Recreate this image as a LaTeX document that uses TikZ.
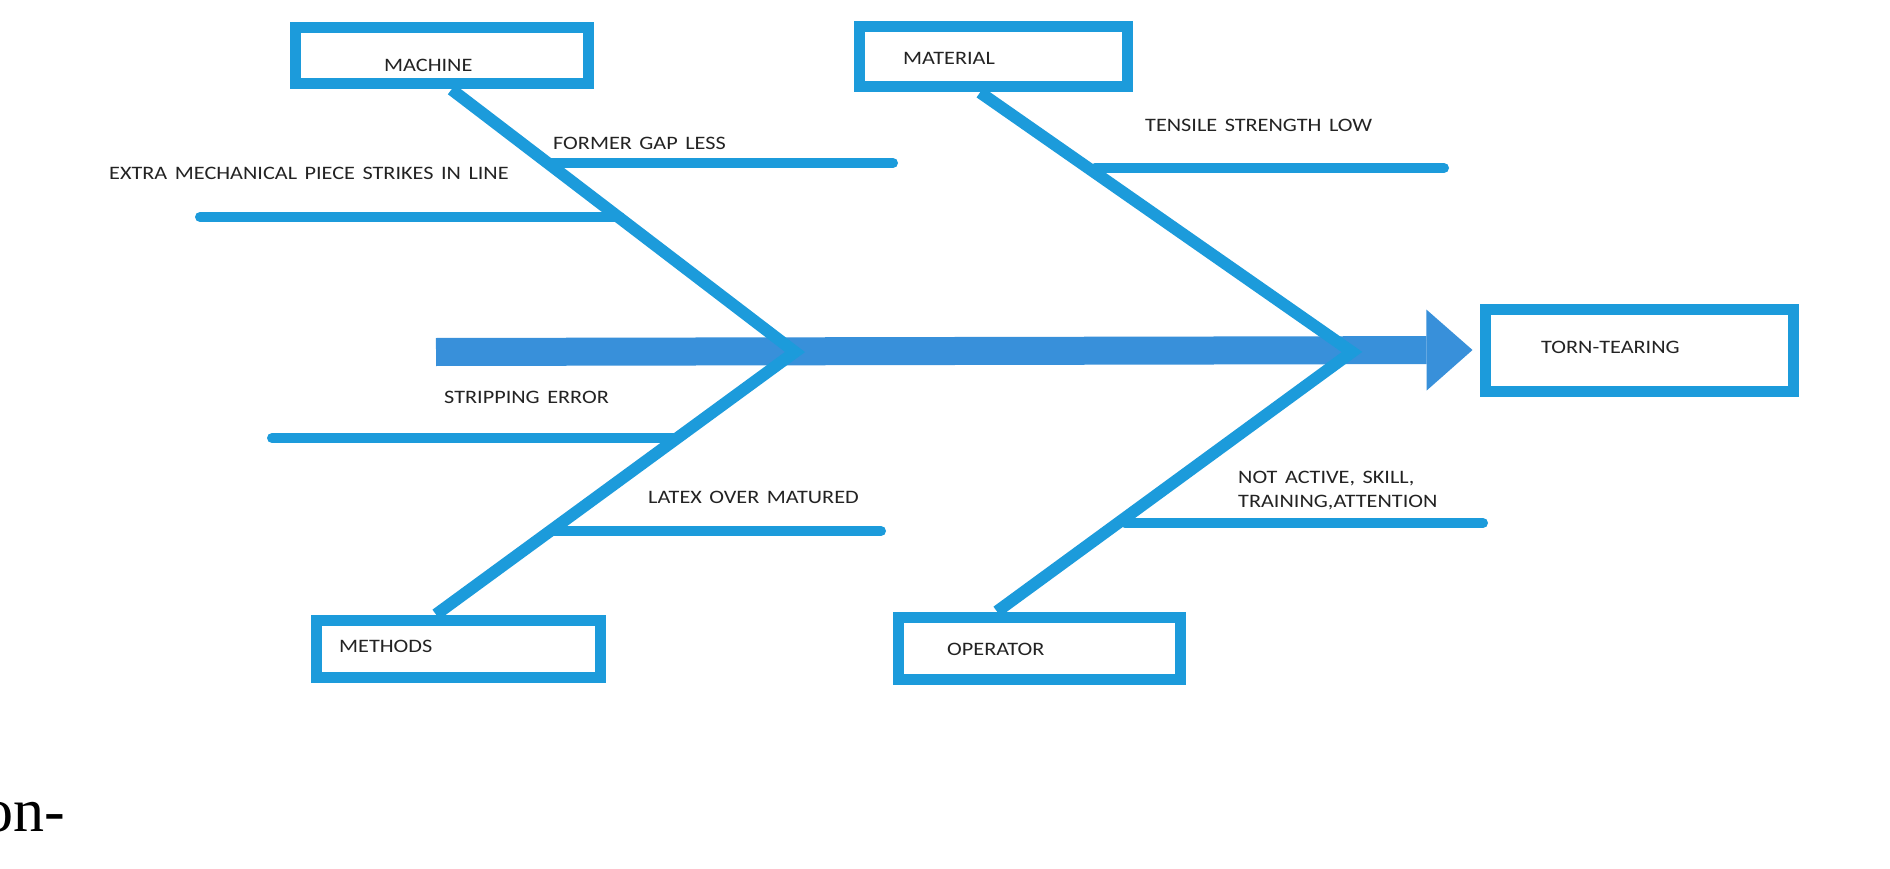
\documentclass[tikz,border=0pt]{standalone}
\usepackage{fontspec}
\newfontfamily\fishfont[FakeStretch=1.17,WordSpace=1.5]{Carlito}
\newfontfamily\pagefont{Liberation Serif}
\usetikzlibrary{arrows.meta}
\definecolor{bonecol}{RGB}{28,155,219}
\definecolor{spinecol}{RGB}{56,144,218}
\definecolor{textcol}{RGB}{35,35,35}
\tikzset{
  causebox/.style={draw=bonecol, line width=11pt, inner sep=0pt},
  bone/.style={draw=bonecol, line width=12pt, line join=miter},
  rib/.style={draw=bonecol, line width=10pt, line cap=round},
  cause/.style={font=\fishfont\fontsize{19}{24}\selectfont, text=textcol, anchor=base west, inner sep=0pt, align=left}
}
\begin{document}
\begin{tikzpicture}[x=1pt,y=-1pt]
\fill[white] (0,0) rectangle (1890,869);
\useasboundingbox (0,0) rectangle (1890,869);
\node[causebox, minimum width=293pt, minimum height=56pt] (machine) at (441.5,56) {};
\node[causebox, minimum width=268pt, minimum height=60pt] (material) at (993,57) {};
\node[causebox, minimum width=284pt, minimum height=57pt] (methods) at (458,648.5) {};
\node[causebox, minimum width=282pt, minimum height=62pt] (operator) at (1039,648) {};
\node[causebox, minimum width=308pt, minimum height=82pt] (torn) at (1639.5,350) {};
\coordinate (spinetail) at (436,352);
\draw[spinecol, line width=28pt, -{Triangle[length=46pt,width=81pt,line width=0pt]}] (spinetail) -- ([xshift=-7.5pt]torn.west);
\coordinate (headleft) at (795,352);
\coordinate (headright) at (1352,352);
\draw[bone] ([xshift=10pt]machine.south) -- (headleft) -- ([xshift=-22pt]methods.north);
\draw[bone] ([xshift=-13pt]material.south) -- (headright) -- ([xshift=-42pt]operator.north);
\foreach \nm/\xa/\xb/\yy in {former/550/893/163, extra/200/620/217, tensile/1095/1444/168,
  stripping/272/676/438, latex/553/881/531, notactive/1125/1483/523}
{
\coordinate (\nm a) at (\xa,\yy);
\coordinate (\nm b) at (\xb,\yy);
\draw[rib] (\nm a) -- (\nm b);
}
\node[cause] (machinelbl) at (384,72) {MACHINE};
\node[cause] (materiallbl) at (903,65) {MATERIAL};
\node[cause] (methodslbl) at (339,652) {METHODS};
\node[cause] (operatorlbl) at (947,655) {OPERATOR};
\node[cause] (tornlbl) at (1541,353) {TORN-TEARING};
\node[cause] (formerlbl) at (553,150) {FORMER GAP LESS};
\node[cause] (extralbl) at (109,180) {EXTRA MECHANICAL PIECE STRIKES IN LINE};
\node[cause] (tensilelbl) at (1145,132) {TENSILE STRENGTH LOW};
\node[cause] (strippinglbl) at (444,403) {STRIPPING ERROR};
\node[cause] (latexlbl) at (648,503) {LATEX OVER MATURED};
\node[cause, anchor=north west] (notactivelbl) at (1238,471) {NOT ACTIVE, SKILL,\\TRAINING,ATTENTION};
\node[font=\pagefont\fontsize{62}{70}\selectfont, anchor=base west, inner sep=0pt] (pagefrag) at (-18,831) {on-};
\end{tikzpicture}
\end{document}
